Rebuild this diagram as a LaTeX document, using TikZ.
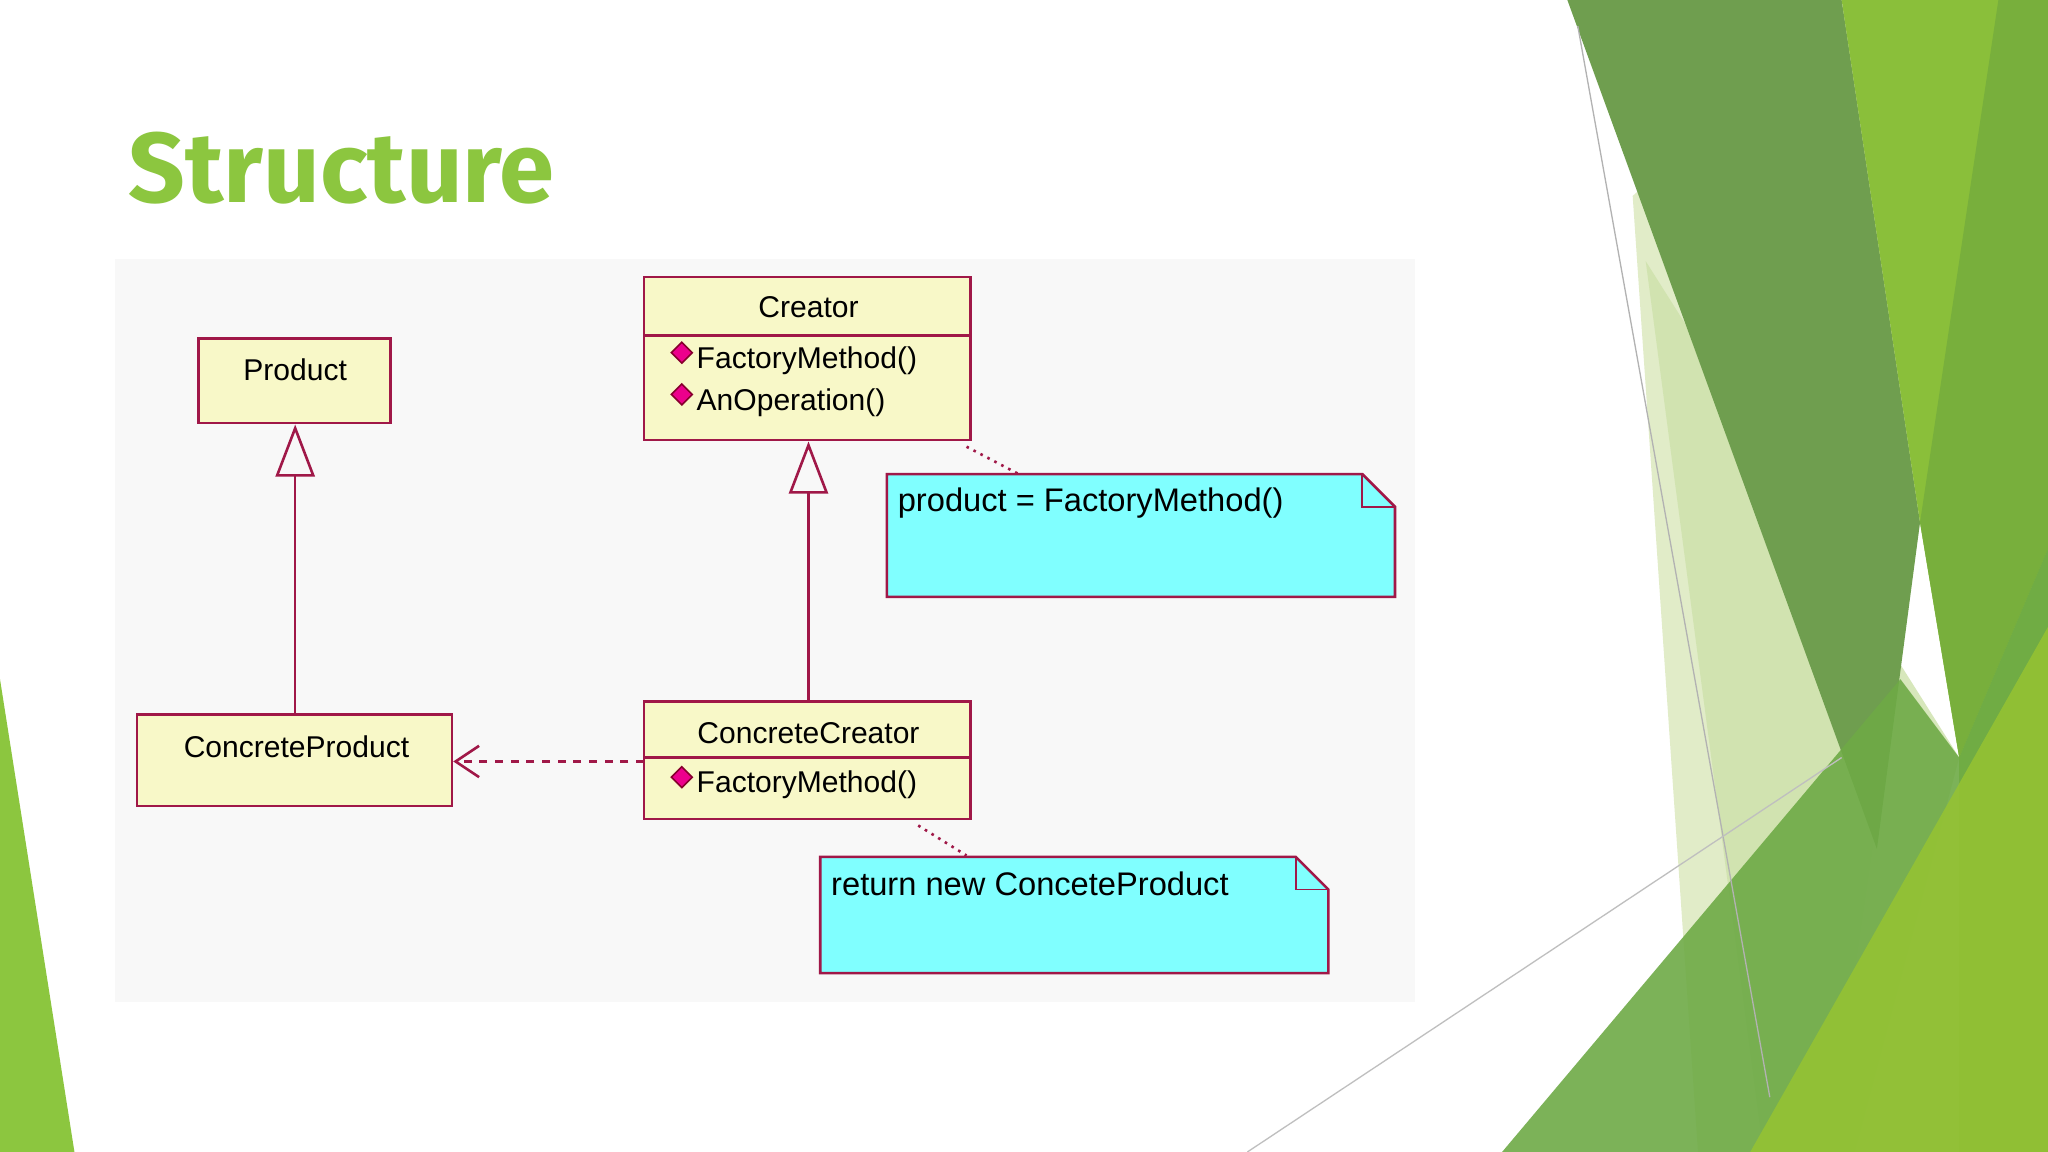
\documentclass[tikz,border=0pt]{standalone}
\usepackage{fontspec}
\setmainfont{Liberation Sans}
\newfontfamily\titlefont{Fira Sans}
\usetikzlibrary{arrows.meta}
\definecolor{umlbox}{HTML}{F8F8C8}
\definecolor{umlline}{HTML}{A01848}
\definecolor{notec}{HTML}{80FFFF}
\definecolor{titleg}{HTML}{8CC63F}
\definecolor{gA}{RGB}{111,158,79}
\definecolor{gB}{RGB}{138,191,58}
\definecolor{gC}{RGB}{120,175,60}
\definecolor{gD}{RGB}{110,170,70}
\definecolor{gE}{RGB}{150,195,50}
\definecolor{gP1}{RGB}{205,225,170}
\definecolor{gP2}{RGB}{225,236,200}
\definecolor{bgg}{RGB}{248,248,248}
\begin{document}
\begin{tikzpicture}[x=0.5pt,y=-0.5pt,
  box/.style={draw=umlline,fill=umlbox,line width=1pt},
  note/.style={draw=umlline,fill=notec,line width=1pt},
  txt/.style={inner sep=0pt,font=\fontsize{11.5}{12}\selectfont},
  ntxt/.style={inner sep=0pt,anchor=west,font=\fontsize{12.5}{13}\selectfont},
  conn/.style={draw=umlline,line width=1pt},
  gen/.style={conn,-{Triangle[open,width=15pt,length=20pt]}},
  dep/.style={conn,dashed,-{Straight Barb[length=9pt,width=12pt]}},
  anchorline/.style={conn,dotted}]
\useasboundingbox (0,0) rectangle (1568,882);
\fill[white] (0,0) rectangle (1568,882);
% decoration
\fill[titleg] (0,520) -- (57,882) -- (0,882) -- cycle;
\fill[gP2] (1250,150) -- (1420,0) -- (1470,400) -- (1400,882) -- (1300,882) -- cycle;
\fill[gP1,opacity=0.8] (1260,200) -- (1500,580) -- (1420,882) -- (1350,882) -- cycle;
\fill[gA] (1200,0) -- (1410,0) -- (1470,400) -- (1437,650) -- cycle;
\fill[gB] (1410,0) -- (1568,0) -- (1568,882) -- (1500,882) -- (1500,580) -- (1470,400) -- cycle;
\fill[gC] (1530,0) -- (1568,0) -- (1568,420) -- (1500,580) -- (1470,400) -- cycle;
\fill[gD,opacity=0.9] (1150,882) -- (1455,520) -- (1500,580) -- (1568,420) -- (1568,882) -- cycle;
\fill[gE,opacity=0.85] (1340,882) -- (1568,480) -- (1568,882) -- cycle;
\draw[gray!60,line width=0.5pt] (1208,20) -- (1355,840);
\draw[gray!50,line width=0.5pt] (955,882) -- (1410,580);
% title
\node[anchor=base west,inner sep=0pt,text=titleg,font=\titlefont\bfseries\fontsize{38}{40}\selectfont] (title) at (98,155) {Structure};
% diagram background
\fill[bgg] (88,198) rectangle (1083,767);
% Product
\draw[box] (152,259) rectangle (299,324);
\node[txt] (product) at (226,283) {Product};
\coordinate (productB) at (226,325);
% Creator
\draw[box] (493,212) rectangle (743,337);
\draw[conn] (493,257) -- (743,257);
\node[txt] (creator) at (619,235) {Creator};
\node[txt,anchor=west] (fm1) at (533,276) {FactoryMethod()};
\node[txt,anchor=west] (aop) at (533,308) {AnOperation()};
\coordinate (creatorB) at (619,338);
% ConcreteProduct
\draw[box] (105,547) rectangle (346,617);
\node[txt] (cproduct) at (227,572) {ConcreteProduct};
\coordinate (cproductT) at (226,547);
\coordinate (cproductR) at (347,583);
% ConcreteCreator
\draw[box] (493,537) rectangle (743,627);
\draw[conn] (493,580) -- (743,580);
\node[txt] (ccreator) at (619,561) {ConcreteCreator};
\node[txt,anchor=west] (fm2) at (533,601) {FactoryMethod()};
\coordinate (ccreatorT) at (619,537);
\coordinate (ccreatorL) at (493,583);
% icons
\foreach \y in {270,302,595}
  \fill[magenta,draw=purple!70!black,line width=0.6pt] (522,\y-8) -- (530,\y) -- (522,\y+8) -- (514,\y) -- cycle;
% notes
\draw[note] (679,363) -- (1043,363) -- (1068,388) -- (1068,457) -- (679,457) -- cycle;
\draw[conn,line width=0.7pt] (1043,363) -- (1043,388) -- (1068,388);
\node[ntxt] (note1) at (687,385) {product = FactoryMethod()};
\draw[note] (628,656) -- (992,656) -- (1017,681) -- (1017,745) -- (628,745) -- cycle;
\draw[conn,line width=0.7pt] (992,656) -- (992,681) -- (1017,681);
\node[ntxt] (note2) at (636,677) {return new ConceteProduct};
\coordinate (n1a) at (780,363);
\coordinate (c1a) at (740,342);
\coordinate (n2a) at (740,655);
\coordinate (c2a) at (703,632);
% connectors
\draw[gen] (cproductT) -- (productB);
\draw[gen] (ccreatorT) -- (creatorB);
\draw[dep] (ccreatorL) -- (cproductR);
\draw[anchorline] (c1a) -- (n1a);
\draw[anchorline] (c2a) -- (n2a);
\end{tikzpicture}
\end{document}
